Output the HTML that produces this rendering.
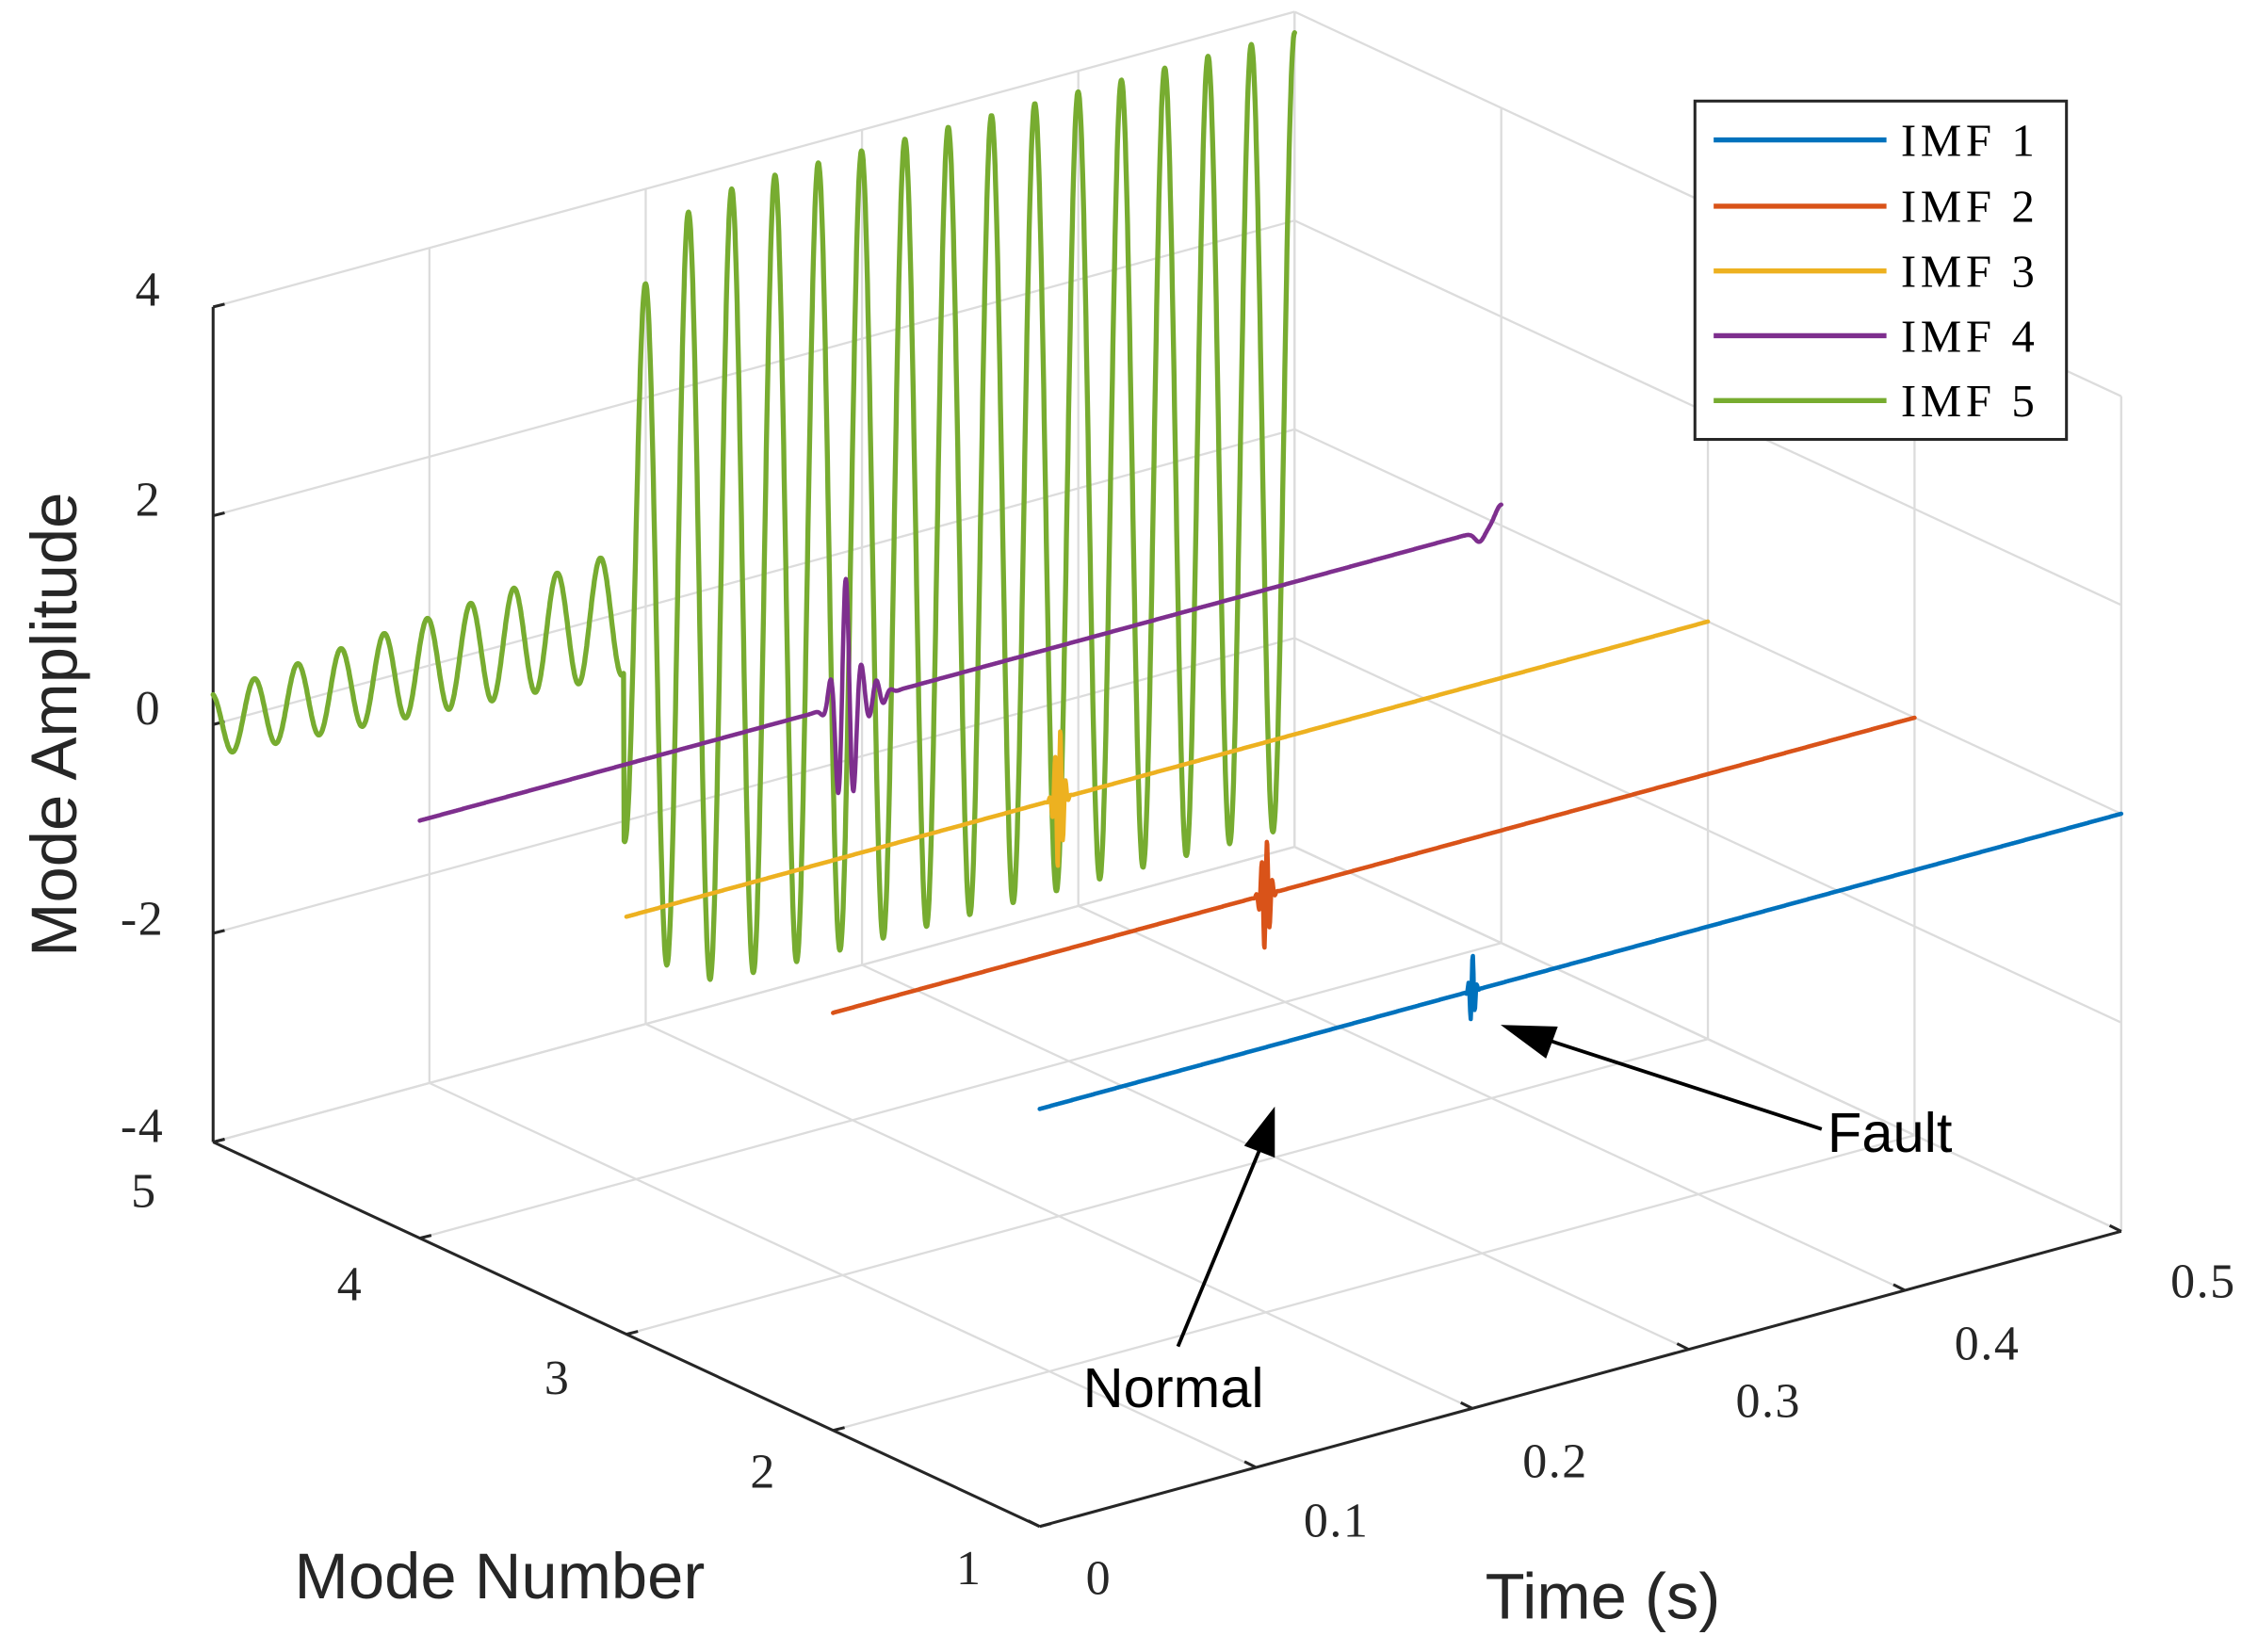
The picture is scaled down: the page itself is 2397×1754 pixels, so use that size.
<!DOCTYPE html>
<html><head><meta charset="utf-8"><style>
html,body{margin:0;padding:0;background:#fff;}
svg{display:block;}
.tk{font-family:"Liberation Serif",serif;font-size:34px;fill:#262626;letter-spacing:1px;}
.lb{font-family:"Liberation Sans",sans-serif;font-size:45px;fill:#262626;}
.an{font-family:"Liberation Sans",sans-serif;font-size:39px;fill:#000;}
.lg{font-family:"Liberation Serif",serif;font-size:32px;fill:#000;letter-spacing:3px;}
</style></head><body>
<svg id="s" width="2397" height="1754" viewBox="0 0 1568 1147" xmlns="http://www.w3.org/2000/svg">
<rect width="1568" height="1147" fill="#fff"/>
<g id="grid" stroke="#dcdcdc" stroke-width="1.5" fill="none"></g>
<g id="axes" stroke="#262626" stroke-width="2" fill="none"></g>
<g id="data" fill="none" stroke-linejoin="round" stroke-linecap="round"></g>
<g>
<text class="tk" x="112" y="212" text-anchor="end">4</text>
<text class="tk" x="112" y="358" text-anchor="end">2</text>
<text class="tk" x="112" y="503" text-anchor="end">0</text>
<text class="tk" x="114" y="649" text-anchor="end">-2</text>
<text class="tk" x="114" y="793" text-anchor="end">-4</text>
<text class="tk" x="100" y="838" text-anchor="middle">5</text>
<text class="tk" x="243" y="903" text-anchor="middle">4</text>
<text class="tk" x="387" y="968" text-anchor="middle">3</text>
<text class="tk" x="530" y="1033" text-anchor="middle">2</text>
<text class="tk" x="673" y="1100" text-anchor="middle">1</text>
<text class="tk" x="763" y="1107" text-anchor="middle">0</text>
<text class="tk" x="928" y="1067" text-anchor="middle">0.1</text>
<text class="tk" x="1080" y="1026" text-anchor="middle">0.2</text>
<text class="tk" x="1228" y="984" text-anchor="middle">0.3</text>
<text class="tk" x="1380" y="944" text-anchor="middle">0.4</text>
<text class="tk" x="1530" y="901" text-anchor="middle">0.5</text>
<text class="lb" transform="translate(53,503) rotate(-90)" text-anchor="middle">Mode Amplitude</text>
<text class="lb" x="347" y="1110" text-anchor="middle">Mode Number</text>
<text class="lb" x="1113" y="1124" text-anchor="middle">Time (s)</text>
<text class="an" x="1269" y="800">Fault</text>
<text class="an" x="752" y="977">Normal</text>
<g stroke="#000" stroke-width="2.5" fill="#000">
<line x1="1265" y1="784" x2="1062" y2="718"/>
<polygon points="1046,713 1080,714 1073,733"/>
<line x1="818" y1="935" x2="879" y2="788"/>
<polygon points="884,772 884,802 866,795"/>
</g>
<rect x="1177" y="70" width="258" height="235" fill="#fff" stroke="#262626" stroke-width="2"/>
<g stroke-width="3.5">
<line x1="1190" y1="97" x2="1310" y2="97" stroke="#0072BD"/>
<line x1="1190" y1="143" x2="1310" y2="143" stroke="#D95319"/>
<line x1="1190" y1="188" x2="1310" y2="188" stroke="#EDB120"/>
<line x1="1190" y1="233" x2="1310" y2="233" stroke="#7E2F8E"/>
<line x1="1190" y1="278" x2="1310" y2="278" stroke="#77AC30"/>
</g>
<text class="lg" x="1320" y="108">IMF 1</text>
<text class="lg" x="1320" y="154">IMF 2</text>
<text class="lg" x="1320" y="199">IMF 3</text>
<text class="lg" x="1320" y="244">IMF 4</text>
<text class="lg" x="1320" y="289">IMF 5</text>
</g>
</svg>
<script>
function P(t,m,z){return [148+(5-m)*143.5+t*1502, 793+(5-m)*66.75-t*410-(z+4)*72.5];}
var NS="http://www.w3.org/2000/svg";
function line(g,a,b){var l=document.createElementNS(NS,"line");l.setAttribute("x1",a[0].toFixed(1));l.setAttribute("y1",a[1].toFixed(1));l.setAttribute("x2",b[0].toFixed(1));l.setAttribute("y2",b[1].toFixed(1));g.appendChild(l);}
var G=document.getElementById("grid"),A=document.getElementById("axes"),D=document.getElementById("data");
for(var i=0;i<=5;i++){var t=i/10;line(G,P(t,5,-4),P(t,5,4));line(G,P(t,5,-4),P(t,1,-4));}
for(var z=-4;z<=4;z+=2){line(G,P(0,5,z),P(0.5,5,z));line(G,P(0.5,5,z),P(0.5,1,z));}
for(var m=1;m<=5;m++){line(G,P(0.5,m,-4),P(0.5,m,4));line(G,P(0,m,-4),P(0.5,m,-4));}
line(A,P(0,5,-4),P(0,5,4));line(A,P(0,5,-4),P(0,1,-4));line(A,P(0,1,-4),P(0.5,1,-4));
for(var z=-4;z<=4;z+=2){var p=P(0,5,z);line(A,p,[p[0]+8,p[1]-2]);}
for(var m=1;m<=5;m++){var p=P(0,m,-4);line(A,p,[p[0]+8,p[1]-2]);}
for(var i=0;i<=5;i++){var p=P(i/10,1,-4);line(A,p,[p[0]-8,p[1]-4]);}
function g(t,c,w){return Math.exp(-Math.pow((t-c)/w,2));}
function series(m,f,col,w){var d="";for(var i=0;i<=2000;i++){var t=i*0.5/2000;var p=P(t,m,f(t));d+=(i?"L":"M")+p[0].toFixed(1)+" "+p[1].toFixed(1);}
var pa=document.createElementNS(NS,"path");pa.setAttribute("d",d);pa.setAttribute("stroke",col);pa.setAttribute("stroke-width",w);D.appendChild(pa);}
var TP=2*Math.PI;
var per=0.02002, ph=Math.PI/2-TP*(0.5-0.19)/per;
series(5,function(t){if(t<0.19){var a=0.3+0.3*t/0.19;return a*Math.sin(TP*t/0.02+Math.PI*0.6);}
 var a=3.8-1.6*Math.exp(-(t-0.19)/0.012);return a*Math.sin(TP*(t-0.19)/per+ph);},"#77AC30",3.5);
series(4,function(t){return 1.2*g(t,0.197,0.006)*Math.sin(TP*(t-0.197)/0.0075+1.6)+0.15*g(t,0.21,0.006)*Math.sin(t*900)+0.2*g(t,0.5,0.004)-0.1*g(t,0.49,0.003);},"#7E2F8E",3);
series(3,function(t){return 0.7*g(t,0.2,0.0025)*Math.sin(TP*t/0.0025);},"#EDB120",3);
series(2,function(t){return 0.55*g(t,0.2,0.0025)*Math.sin(TP*t/0.0025);},"#D95319",3);
series(1,function(t){return 0.35*g(t,0.2,0.0015)*Math.sin(TP*t/0.002+1);},"#0072BD",3);
</script>
</body></html>
